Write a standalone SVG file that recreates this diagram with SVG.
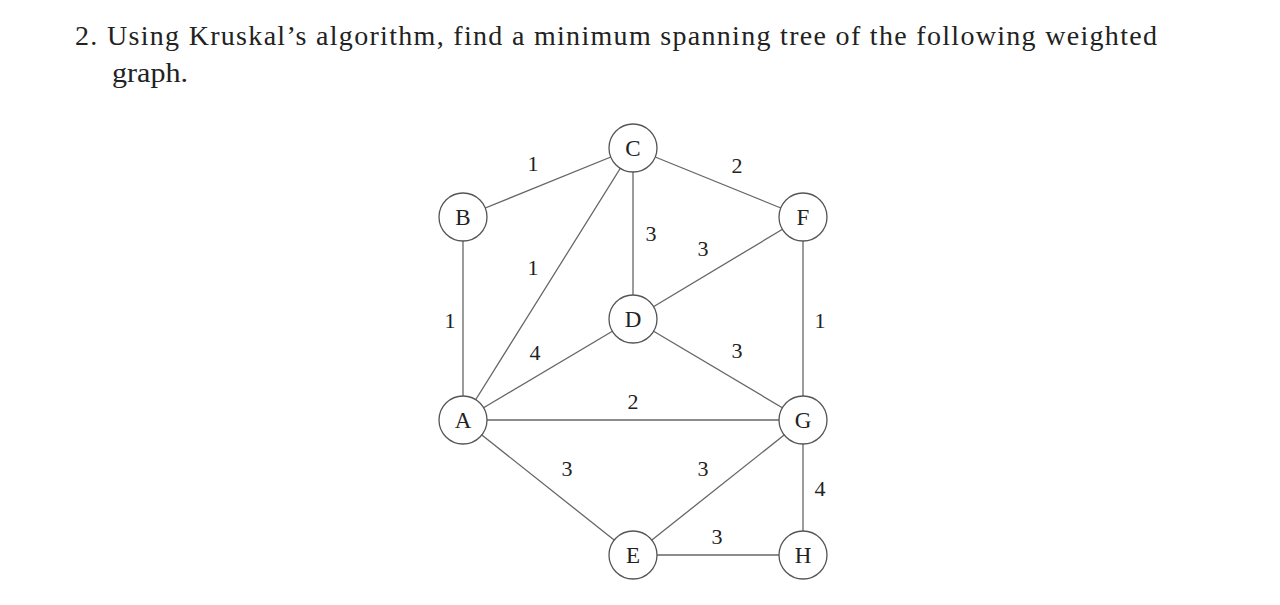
<svg xmlns="http://www.w3.org/2000/svg" width="1280" height="605" viewBox="0 0 1280 605">
<style>
text{font-family:"Liberation Serif","DejaVu Serif",serif;fill:#222}
.t{font-size:28px}
.l{font-size:22px;text-anchor:middle}
.n circle{fill:#fff;stroke:#555;stroke-width:1.3}
.n text{font-size:23px;text-anchor:middle}
#edges line{stroke:#666;stroke-width:1.3}
</style>
<rect width="1280" height="605" fill="#fff"/>
<text class="t" x="75" y="45" textLength="1082" lengthAdjust="spacing">2. Using Kruskal’s algorithm, find a minimum spanning tree of the following weighted</text>
<text class="t" x="112" y="82" textLength="76" lengthAdjust="spacingAndGlyphs">graph.</text>
<g id="edges">
<line x1="463" y1="217" x2="633" y2="148"/>
<line x1="633" y1="148" x2="803" y2="217"/>
<line x1="633" y1="148" x2="633" y2="319"/>
<line x1="633" y1="148" x2="463" y2="420"/>
<line x1="633" y1="319" x2="803" y2="217"/>
<line x1="463" y1="217" x2="463" y2="420"/>
<line x1="633" y1="319" x2="463" y2="420"/>
<line x1="633" y1="319" x2="803" y2="420"/>
<line x1="463" y1="420" x2="803" y2="420"/>
<line x1="803" y1="217" x2="803" y2="420"/>
<line x1="463" y1="420" x2="633" y2="555"/>
<line x1="633" y1="555" x2="803" y2="420"/>
<line x1="803" y1="420" x2="803" y2="555"/>
<line x1="633" y1="555" x2="803" y2="555"/>
</g>
<g id="labels">
<text class="l" x="533" y="171">1</text>
<text class="l" x="737" y="173">2</text>
<text class="l" x="651" y="241">3</text>
<text class="l" x="703" y="256">3</text>
<text class="l" x="533" y="275">1</text>
<text class="l" x="450" y="328">1</text>
<text class="l" x="820" y="328">1</text>
<text class="l" x="535" y="360">4</text>
<text class="l" x="737" y="358">3</text>
<text class="l" x="633" y="409">2</text>
<text class="l" x="567" y="476">3</text>
<text class="l" x="703" y="476">3</text>
<text class="l" x="820" y="496">4</text>
<text class="l" x="717" y="544">3</text>
</g>
<g id="node-B" class="n"><circle cx="463" cy="217" r="24"/><text x="463" y="225">B</text></g>
<g id="node-C" class="n"><circle cx="633" cy="148" r="24"/><text x="633" y="156">C</text></g>
<g id="node-F" class="n"><circle cx="803" cy="217" r="24"/><text x="803" y="225">F</text></g>
<g id="node-D" class="n"><circle cx="633" cy="319" r="24"/><text x="633" y="327">D</text></g>
<g id="node-A" class="n"><circle cx="463" cy="420" r="24"/><text x="463" y="428">A</text></g>
<g id="node-G" class="n"><circle cx="803" cy="420" r="24"/><text x="803" y="428">G</text></g>
<g id="node-E" class="n"><circle cx="633" cy="555" r="24"/><text x="633" y="563">E</text></g>
<g id="node-H" class="n"><circle cx="803" cy="555" r="24"/><text x="803" y="563">H</text></g>
</svg>
